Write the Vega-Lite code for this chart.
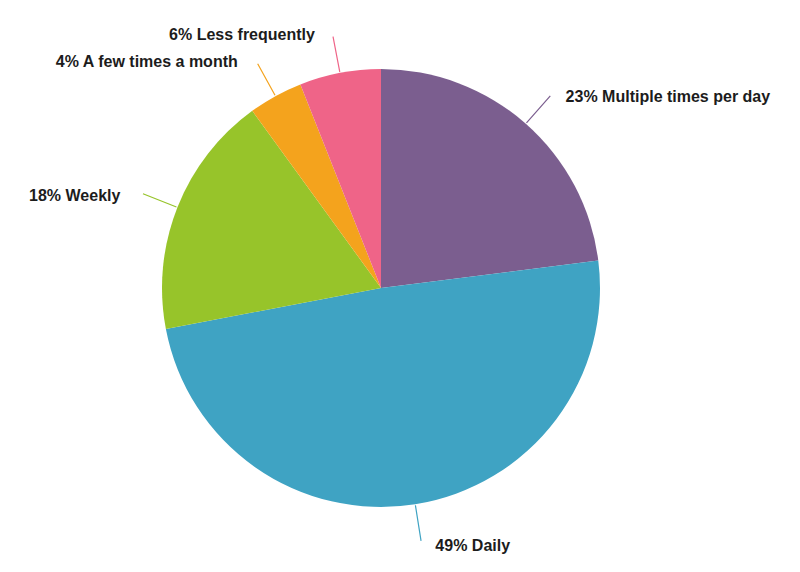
{
  "$schema": "https://vega.github.io/schema/vega-lite/v6.json",
  "width": 800,
  "height": 572,
  "autosize": {"type": "fit", "contains": "padding"},
  "padding": {"left": 0, "right": 38, "top": 4, "bottom": 0},
  "background": "white",
  "view": {"stroke": null},
  "data": {
    "values": [
      {"frequency": "Multiple times per day", "share": 23},
      {"frequency": "Daily", "share": 49},
      {"frequency": "Weekly", "share": 18},
      {"frequency": "A few times a month", "share": 4},
      {"frequency": "Less frequently", "share": 6}
    ]
  },
  "transform": [
    {"window": [{"op": "row_number", "as": "idx"}]},
    {"calculate": "datum.share + '% ' + datum.frequency", "as": "label"}
  ],
  "encoding": {
    "theta": {"field": "share", "type": "quantitative", "stack": true},
    "order": {"field": "idx", "type": "quantitative"}
  },
  "layer": [
    {
      "mark": {"type": "arc", "radius": 219, "stroke": null},
      "encoding": {
        "color": {
          "field": "frequency",
          "type": "nominal",
          "legend": null,
          "scale": {
            "domain": ["Multiple times per day", "Daily", "Weekly", "A few times a month", "Less frequently"],
            "range": ["#7b5e8f", "#3fa3c3", "#97c42a", "#f4a31d", "#ef6488"]
          }
        }
      }
    },
    {
      "mark": {"type": "arc", "radius": 220, "radius2": 256, "padAngle": 3, "filled": false, "strokeWidth": 1.2},
      "encoding": {
        "color": {"field": "frequency", "type": "nominal", "legend": null}
      }
    },
    {
      "mark": {"type": "text", "radius": 258, "align": "left", "dx": 14, "dy": 3, "fontSize": 16, "fontWeight": "bold", "font": "Liberation Sans", "fill": "#1c1c1c"},
      "encoding": {
        "detail": {"field": "frequency", "type": "nominal"},
        "text": {
          "field": "label",
          "type": "nominal",
          "condition": {"test": "indexof(['Multiple times per day', 'Daily'], datum.frequency) < 0", "value": ""}
        }
      }
    },
    {
      "mark": {"type": "text", "radius": 262, "align": "right", "dx": -17, "dy": 4, "fontSize": 16, "fontWeight": "bold", "font": "Liberation Sans", "fill": "#1c1c1c"},
      "encoding": {
        "detail": {"field": "frequency", "type": "nominal"},
        "text": {
          "field": "label",
          "type": "nominal",
          "condition": {"test": "indexof(['Multiple times per day', 'Daily'], datum.frequency) >= 0", "value": ""}
        }
      }
    }
  ]
}
